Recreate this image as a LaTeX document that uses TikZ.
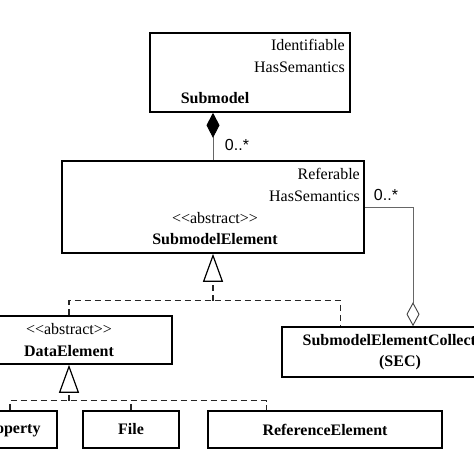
\documentclass[tikz,border=0pt]{standalone}
\usepackage{fontspec}
\newfontfamily\umlserif{Liberation Serif}
\newfontfamily\umlsans{Liberation Sans}
\usetikzlibrary{arrows.meta, calc}

\begin{document}
\begin{tikzpicture}[
        x=1pt, y=-1pt,
        font=\umlserif\fontsize{16}{21.5}\selectfont,
        % Styles for the class boxes and their texts
        classbox/.style={
            rectangle, draw, line width=1.6pt,
            inner sep=0pt, align=center
        },
        feature/.style={inner sep=0pt, anchor=east},
        cname/.style={inner sep=0pt, align=center},
        mult/.style={inner sep=0pt, font=\umlsans\fontsize{16}{19}\selectfont},
        % Styles for the connectors
        compose/.style={
            draw=black!60, line width=0.9pt,
            -{Diamond[length=25pt, width=13pt, black]}
        },
        aggregate/.style={
            draw=black!60, line width=0.9pt,
            -{Diamond[open, length=24pt, width=13pt, black!75]}
        },
        realize/.style={
            draw=black!85, line width=1.2pt,
            dash pattern=on 6pt off 4pt
        },
        inherit/.style={
            realize, -{Triangle[open, length=28pt, width=20pt, black]}
        }
    ]

    \useasboundingbox (0,0) rectangle (474,474);
    \clip (0,0) rectangle (474,474);

    % 1. SUBMODEL
    \node[classbox, minimum width=200pt, minimum height=79pt] (Submodel) at (250,72.5) {};
    \node[feature] (smIdent) at (345,45) {Identifiable};
    \node[feature] (smSem)   at (345,67) {HasSemantics};
    \node[cname]   (smName)  at (215,98) {\textbf{Submodel}};

    % 2. SUBMODEL ELEMENT
    \node[classbox, minimum width=302pt, minimum height=92pt] (SME) at (213,207) {};
    \node[feature] (smeRef)  at (360,174) {Referable};
    \node[feature] (smeSem)  at (360,196) {HasSemantics};
    \node[cname]   (smeName) at (215,228.5) {<\kern0pt<abstract>\kern0pt>\\\textbf{SubmodelElement}};

    % Composition Submodel -> SubmodelElement
    \draw[compose] (SME.north) -- (SME.north |- Submodel.south);
    \node[mult] (multComp) at (237,145) {0..*};

    % 3. SUBCLASSES OF SUBMODEL ELEMENT
    \node[classbox, minimum width=206pt, minimum height=48pt] (DataElement) at (69,340)
        {<\kern0pt<abstract>\kern0pt>\\\textbf{DataElement}};
    \node[classbox, minimum width=236pt, minimum height=50pt] (SEC) at (400,352)
        {\textbf{SubmodelElementCollection}\\\textbf{(SEC)}};

    \coordinate (genBus) at ($(SME.south)+(0,47)$);
    \coordinate (secIn)  at ($(SEC.north west)!0.25!(SEC.north east)$);
    \draw[inherit] (genBus) -- (SME.south);
    \draw[realize] (DataElement.north) |- (genBus) -| (secIn);

    % Aggregation SEC -> SubmodelElement
    \coordinate (aggIn) at ($(SEC.north)+(13,0)$);
    \draw[aggregate] (SME.east) -| (aggIn);
    \node[mult] (multAgg) at (386,195) {0..*};

    % 4. SUBCLASSES OF DATA ELEMENT
    \node[classbox, minimum width=94pt,  minimum height=37pt] (Property) at (10,429.5)  {\textbf{Property}};
    \node[classbox, minimum width=96pt,  minimum height=37pt] (File)     at (131,429.5) {\textbf{File}};
    \node[classbox, minimum width=234pt, minimum height=37pt] (RefElem)  at (325,429.5) {\textbf{ReferenceElement}};

    \coordinate (deBus) at ($(DataElement.south)+(0,36)$);
    \coordinate (refIn) at ($(RefElem.north west)+(59,0)$);
    \draw[inherit] (deBus) -- (DataElement.south);
    \draw[realize] (Property.north) |- (deBus) -| (refIn);
    \draw[realize] (File.north) -- (File.north |- deBus);

\end{tikzpicture}
\end{document}
